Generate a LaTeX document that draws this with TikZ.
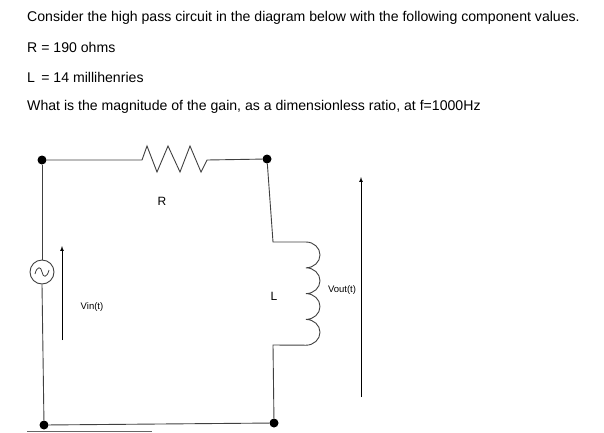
\documentclass[tikz,border=0pt]{standalone}
\usepackage{fontspec}
\setmainfont{Liberation Sans}
\begin{document}
\begin{tikzpicture}[x=1pt,y=-1pt,
  wire/.style={draw=black!75,line width=0.9pt},
  dot/.style={circle,fill=black,inner sep=0pt,minimum size=9pt},
  txt/.style={anchor=west,inner sep=0pt,font=\fontsize{14.1}{16}\selectfont},
  lbl/.style={inner sep=0pt,font=\fontsize{12}{14}\selectfont},
  sm/.style={inner sep=0pt,font=\fontsize{9.5}{11}\selectfont}]
\useasboundingbox (0,0) rectangle (604,432);
\node[txt] (t1) at (27,18) {Consider the high pass circuit in the diagram below with the following component values.};
\node[txt] (t2) at (27,47) {R = 190 ohms};
\node[txt] (t3) at (27,77) {L\, = 14 millihenries};
\node[txt] (t4) at (27,107) {What is the magnitude of the gain, as a dimensionless ratio, at f=1000Hz};
\node[dot] (a) at (42,160) {};
\node[dot] (b) at (267,159) {};
\node[dot] (c) at (274,423) {};
\node[dot] (d) at (44,425) {};
\node[circle,draw=black!75,line width=0.9pt,minimum size=24pt,inner sep=0pt] (src) at (42,272) {};
\draw[black!75,line width=0.8pt] (35,274) .. controls (37,266) and (41,266) .. (42,272) .. controls (43,278) and (47,278) .. (49,270);
\draw[wire] (a) -- (142,160) -- (147,146) -- (157,172) -- (168,146) -- (180,172) -- (190,146) -- (201,172) -- (207,160) -- (b);
\draw[wire] (b) -- (273,242) -- (306,242)
  arc[start angle=-90,end angle=90,x radius=14,y radius=12.9]
  arc[start angle=-90,end angle=90,x radius=14,y radius=12.9]
  arc[start angle=-90,end angle=90,x radius=14,y radius=12.9]
  arc[start angle=-90,end angle=90,x radius=14,y radius=12.9]
  -- (273,345) -- (c);
\draw[wire] (c) -- (d);
\draw[wire] (d) -- (src.south);
\draw[wire] (src.north) -- (a);
\coordinate (vi1) at (62,340); \coordinate (vi2) at (62,246);
\draw[black,line width=0.7pt,-latex] (vi1) -- (vi2);
\coordinate (vo1) at (361,397); \coordinate (vo2) at (361,177);
\draw[black,line width=0.7pt,-latex] (vo1) -- (vo2);
\node[lbl] (R) at (162,201) {R};
\node[lbl] (L) at (274,296) {L};
\node[sm] (vin) at (92,307) {Vin(t)};
\node[sm] (vout) at (342,290) {Vout(t)};
\draw[black!60,line width=0.6pt] (27,431) -- (152,431);
\end{tikzpicture}
\end{document}
